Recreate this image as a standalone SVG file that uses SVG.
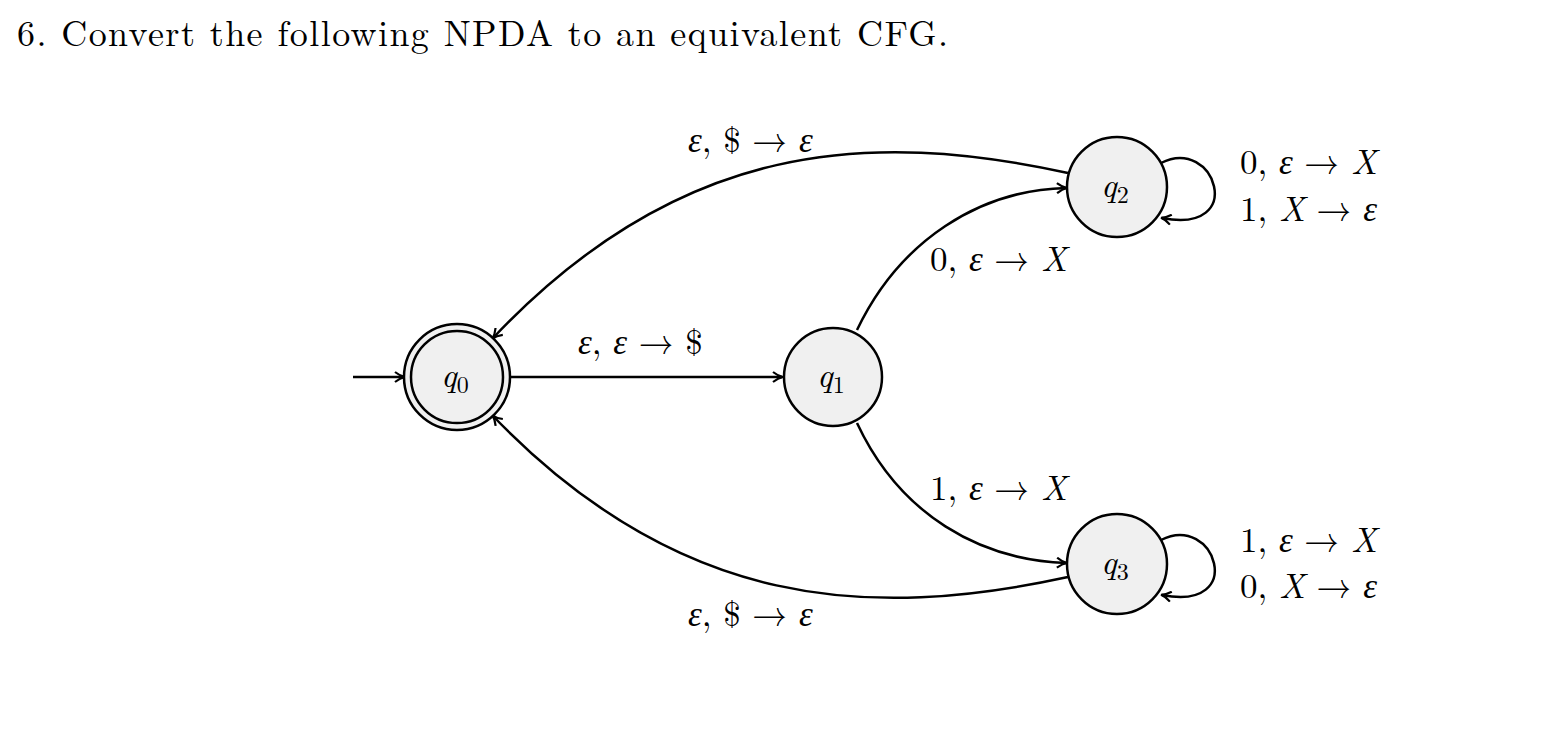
<svg xmlns="http://www.w3.org/2000/svg" width="1555" height="730" viewBox="0 0 1555 730">
<style>
text{font-family:"Latin Modern Roman","Liberation Serif","DejaVu Serif",serif;fill:#000}
.lb{font-size:35px}
.i{font-style:italic}
.st{fill:#f0f0f0;stroke:#000;stroke-width:2.5}
.e{fill:none;stroke:#000;stroke-width:2.5;marker-end:url(#a)}
</style>
<defs>
<marker id="a" viewBox="0 0 12 12" refX="10" refY="6" markerWidth="12" markerHeight="12" markerUnits="userSpaceOnUse" orient="auto">
<path d="M1,1 Q6,5 11,6 Q6,7 1,11" fill="none" stroke="#000" stroke-width="2.2"/>
</marker>
</defs>
<rect width="1555" height="730" fill="#fff"/>
<text x="17" y="46" font-size="36" textLength="931">6.  Convert the following NPDA to an equivalent CFG.</text>
<g id="edges">
<path class="e" d="M353,377 L404,377"/>
<path class="e" d="M510,377 L782,377"/>
<path class="e" d="M857,330 C900,240 980,190 1066,188"/>
<path class="e" d="M857,423 C900,515 980,560 1066,563"/>
<path class="e" d="M1068,173 C870,130 680,140 493,338"/>
<path class="e" d="M1068,577 C870,620 680,610 493,416"/>
<path class="e" d="M1161,163 C1215,135 1248,235 1162,218"/>
<path class="e" d="M1161,540 C1215,512 1248,612 1162,595"/>
</g>
<g id="labels" class="lb">
<text x="578" y="354"><tspan class="i">ε</tspan>, <tspan class="i">ε</tspan> → $</text>
<text x="930" y="271">0, <tspan class="i">ε</tspan> → <tspan class="i">X</tspan></text>
<text x="930" y="500">1, <tspan class="i">ε</tspan> → <tspan class="i">X</tspan></text>
<text x="688" y="152"><tspan class="i">ε</tspan>, $ → <tspan class="i">ε</tspan></text>
<text x="688" y="626"><tspan class="i">ε</tspan>, $ → <tspan class="i">ε</tspan></text>
<text x="1240" y="174">0, <tspan class="i">ε</tspan> → <tspan class="i">X</tspan></text>
<text x="1240" y="221">1, <tspan class="i">X</tspan> → <tspan class="i">ε</tspan></text>
<text x="1240" y="552">1, <tspan class="i">ε</tspan> → <tspan class="i">X</tspan></text>
<text x="1240" y="598">0, <tspan class="i">X</tspan> → <tspan class="i">ε</tspan></text>
</g>
<g id="q0"><circle class="st" cx="457" cy="377" r="53"/><circle cx="457" cy="377" r="46" fill="none" stroke="#000" stroke-width="2.5"/><text x="441" y="387" font-size="34" class="i">q<tspan font-size="24" font-style="normal" dy="6">0</tspan></text></g>
<g id="q1"><circle class="st" cx="833" cy="377" r="49"/><text x="817" y="387" font-size="34" class="i">q<tspan font-size="24" font-style="normal" dy="6">1</tspan></text></g>
<g id="q2"><circle class="st" cx="1117" cy="187" r="50"/><text x="1101" y="197" font-size="34" class="i">q<tspan font-size="24" font-style="normal" dy="6">2</tspan></text></g>
<g id="q3"><circle class="st" cx="1117" cy="564" r="50"/><text x="1101" y="574" font-size="34" class="i">q<tspan font-size="24" font-style="normal" dy="6">3</tspan></text></g>
</svg>
